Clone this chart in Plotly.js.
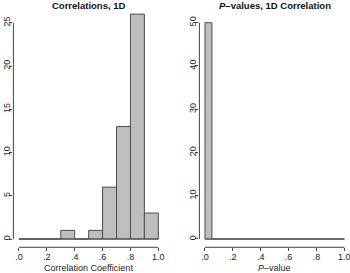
<!DOCTYPE html>
<html><head><meta charset="utf-8">
<script src="https://cdn.plot.ly/plotly-3.0.1.min.js"></script>
<style>html,body{margin:0;padding:0;background:#fff}#chart{width:350px;height:273px}</style>
</head><body><div id="chart"></div>
<script>
const corrBinEdges = [0.0, 0.1, 0.2, 0.3, 0.4, 0.5, 0.6, 0.7, 0.8, 0.9, 1.0];
const corrCounts = [0, 0, 0, 1, 0, 1, 6, 13, 26, 3];
const pBinEdges = [0.00, 0.05, 0.10, 0.15, 0.20, 0.25, 0.30, 0.35, 0.40, 0.45, 0.50,
                   0.55, 0.60, 0.65, 0.70, 0.75, 0.80, 0.85, 0.90, 0.95, 1.00];
const pCounts = [50, 0, 0, 0, 0, 0, 0, 0, 0, 0, 0, 0, 0, 0, 0, 0, 0, 0, 0, 0];
const xTickVals = [0, 0.2, 0.4, 0.6, 0.8, 1.0];
const xTickText = ['.0', '.2', '.4', '.6', '.8', '1.0'];
const corrYTicks = [0, 5, 10, 15, 20, 25];
const pYTicks = [0, 10, 20, 30, 40, 50];

const FONT = 'Liberation Sans, Arial, Helvetica, sans-serif';
const AX = '#444';
const BARFILL = '#BEBEBE';
const BAREDGE = '#4d4d4d';

function centers(e){ return e.slice(0,-1).map((v,i)=>(v+e[i+1])/2); }
function widths(e){ return e.slice(0,-1).map((v,i)=>e[i+1]-v); }

const traces = [
  {type:'scatter', mode:'lines', x:[corrBinEdges[0], corrBinEdges[corrBinEdges.length-1]], y:[0,0],
   line:{color:BAREDGE, width:1}, xaxis:'x', yaxis:'y', hoverinfo:'skip', showlegend:false},
  {type:'bar', x:centers(corrBinEdges), y:corrCounts, width:widths(corrBinEdges),
   marker:{color:BARFILL, line:{color:BAREDGE, width:1}}, xaxis:'x', yaxis:'y', showlegend:false},
  {type:'scatter', mode:'lines', x:[pBinEdges[0], pBinEdges[pBinEdges.length-1]], y:[0,0],
   line:{color:'#666', width:1.5}, xaxis:'x2', yaxis:'y2', hoverinfo:'skip', showlegend:false},
  {type:'bar', x:centers(pBinEdges), y:pCounts, width:widths(pBinEdges),
   marker:{color:BARFILL, line:{color:BAREDGE, width:1}}, xaxis:'x2', yaxis:'y2', showlegend:false}
];

const W = 350, H = 273;
const yDom = [1 - 247.3/H, 1 - 5.1/H];
function xax(dom){
  return {domain:dom, range:[-0.04, 1.04], showgrid:false, zeroline:false, showline:false,
    tickmode:'array', tickvals:xTickVals, ticktext:xTickText, ticks:'outside', ticklen:3,
    ticklabelstandoff:-2, ticklabeloverflow:'allow',
    tickcolor:AX, tickwidth:1, tickfont:{family:FONT, size:9, color:'#222'}, fixedrange:true};
}
function yax(range, ticks, anchor){
  return {domain:yDom, range:range, showgrid:false, zeroline:false, showline:false, anchor:anchor,
    tickmode:'array', tickvals:ticks, ticks:'outside', ticklen:3, tickangle:-90,
    ticklabelstandoff:-4, ticklabeloverflow:'allow',
    tickcolor:AX, tickwidth:1, tickfont:{family:FONT, size:9, color:'#222'}, fixedrange:true};
}

const layout = {
  width:W, height:H, margin:{l:0, r:0, t:0, b:0}, paper_bgcolor:'#fff', plot_bgcolor:'#fff',
  bargap:0, showlegend:false,
  xaxis: Object.assign(xax([13.4/W, 163.9/W]), {anchor:'y'}),
  yaxis: yax([-0.96, 27.04], corrYTicks, 'x'),
  xaxis2: Object.assign(xax([199.4/W, 349.9/W]), {anchor:'y2'}),
  yaxis2: yax([-1.92, 54.07], pYTicks, 'x2'),
  shapes: [
    {type:'line', xref:'x', yref:'y domain', x0:xTickVals[0], x1:xTickVals[xTickVals.length-1], y0:0, y1:0, line:{color:AX, width:1}},
    {type:'line', xref:'x domain', yref:'y', x0:0, x1:0, y0:corrYTicks[0], y1:corrYTicks[corrYTicks.length-1], line:{color:AX, width:1}},
    {type:'line', xref:'x2', yref:'y2 domain', x0:xTickVals[0], x1:xTickVals[xTickVals.length-1], y0:0, y1:0, line:{color:AX, width:1}},
    {type:'line', xref:'x2 domain', yref:'y2', x0:0, x1:0, y0:pYTicks[0], y1:pYTicks[pYTicks.length-1], line:{color:AX, width:1}}
  ],
  annotations: [
    {text:'<b>Correlations, 1D</b>', xref:'x domain', yref:'paper', x:0.5, y:1 - 5/H, xanchor:'center', yanchor:'middle',
     showarrow:false, font:{family:FONT, size:9.5, color:'#111'}},
    {text:'<b><i>P</i>–values, 1D Correlation</b>', xref:'x2 domain', yref:'paper', x:0.5, y:1 - 5/H, xanchor:'center', yanchor:'middle',
     showarrow:false, font:{family:FONT, size:9.5, color:'#111'}},
    {text:'Correlation Coefficient', xref:'x domain', yref:'paper', x:0.5, y:1 - 268/H, xanchor:'center', yanchor:'middle',
     showarrow:false, font:{family:FONT, size:9, color:'#222'}},
    {text:'<i>P</i>–value', xref:'x2 domain', yref:'paper', x:0.5, y:1 - 268/H, xanchor:'center', yanchor:'middle',
     showarrow:false, font:{family:FONT, size:9, color:'#222'}}
  ]
};

Plotly.newPlot('chart', traces, layout, {displayModeBar:false, staticPlot:true});
</script></body></html>
